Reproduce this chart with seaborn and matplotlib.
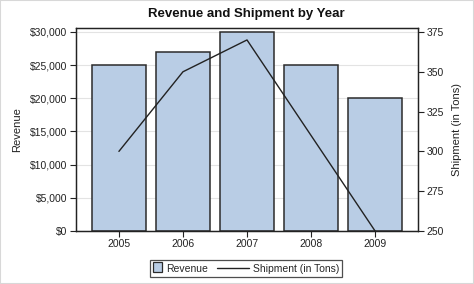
import matplotlib
matplotlib.use("Agg")
import matplotlib.pyplot as plt
import seaborn as sns
import pandas as pd
from matplotlib.patches import Patch, Rectangle
from matplotlib.lines import Line2D
from matplotlib.ticker import FuncFormatter
from matplotlib.legend_handler import HandlerPatch, HandlerBase

years = ["2005", "2006", "2007", "2008", "2009"]
revenue = [25000, 27000, 30000, 25000, 20000]
shipment = [300, 350, 370, 310, 250]

sns.set_theme(style="white")
plt.rcParams["font.family"] = ["Liberation Sans", "DejaVu Sans"]

df = pd.DataFrame({"Year": years, "Revenue": revenue, "Shipment": shipment})

fig = plt.figure(figsize=(4.74, 2.84), dpi=100)
ax = fig.add_axes([76/474, 1-231/284, (418-76)/474, (231-28)/284])

bar_color = "#B9CDE5"
edge = "#2b2b2b"
sns.barplot(data=df, x="Year", y="Revenue", ax=ax, color=bar_color,
            edgecolor=edge, linewidth=1.1, width=0.84, saturation=1, zorder=2)
ax.set_xlim(-0.67, 4.67)
ax.set_ylim(0, 30600)
ax.set_yticks([0, 5000, 10000, 15000, 20000, 25000, 30000])
ax.yaxis.set_major_formatter(FuncFormatter(lambda v, p: f"${v:,.0f}"))
ax.grid(axis="y", color="#e3e3e3", linewidth=0.8, zorder=0)
ax.set_axisbelow(True)
ax.set_xlabel("")
ax.set_ylabel("Revenue", fontsize=8, color="#222222", labelpad=6)

ax2 = ax.twinx()
sns.lineplot(data=df, x="Year", y="Shipment", ax=ax2, color="#222222",
             linewidth=1.0, zorder=3)
ax2.set_ylim(250, 250 + 125 * 30600 / 30000)
ax2.set_yticks([250, 275, 300, 325, 350, 375])
ax2.set_ylabel("Shipment (in Tons)", fontsize=8, color="#222222", labelpad=6)
ax2.set_xlim(-0.67, 4.67)
ax2.grid(False)

for a in (ax, ax2):
    for s in a.spines.values():
        s.set_color("#222222")
        s.set_linewidth(0.9)
    a.tick_params(axis="both", which="major", length=4, width=0.8,
                  color="#222222", labelsize=7.5, labelcolor="#222222", pad=2)
ax.tick_params(axis="x", bottom=True, length=4)
ax.tick_params(axis="y", left=True)
ax2.tick_params(axis="y", right=True)

fig.suptitle("Revenue and Shipment by Year", x=246/474, y=1-14/284,
             fontsize=9.5, fontweight="bold", color="#111111", va="center")


def square_patch(legend, orig_handle, xdescent, ydescent, width, height, fontsize):
    s = height * 1.1
    return Rectangle((0, (height - s) / 2), s, s)


class LongLine(HandlerBase):
    def create_artists(self, legend, orig_handle, xdescent, ydescent, width,
                       height, fontsize, trans):
        y = height / 2 - ydescent
        ln = Line2D([-2.4 * width, width], [y, y], color=orig_handle.get_color(),
                    linewidth=orig_handle.get_linewidth(), transform=trans)
        return [ln]


handles = [Patch(facecolor=bar_color, edgecolor=edge, linewidth=0.9, label="Revenue"),
           Line2D([0], [0], color="#222222", linewidth=1.0, label="Shipment (in Tons)")]
leg = fig.legend(handles=handles, loc="center", bbox_to_anchor=(246/474, 1-268.5/284),
                 ncol=2, frameon=True, fontsize=7.5, fancybox=False,
                 handlelength=0.9, handleheight=0.9, columnspacing=3.0,
                 handletextpad=0.4, borderpad=0.3, borderaxespad=0,
                 handler_map={Patch: HandlerPatch(patch_func=square_patch),
                              Line2D: LongLine()})
leg.get_frame().set_edgecolor("#222222")
leg.get_frame().set_linewidth(0.9)

fig.patches.append(Rectangle((0, 0), 1, 1, transform=fig.transFigure,
                             fill=False, edgecolor="#d8d8d8", linewidth=1.5))

fig.savefig("out.png", dpi=100)
